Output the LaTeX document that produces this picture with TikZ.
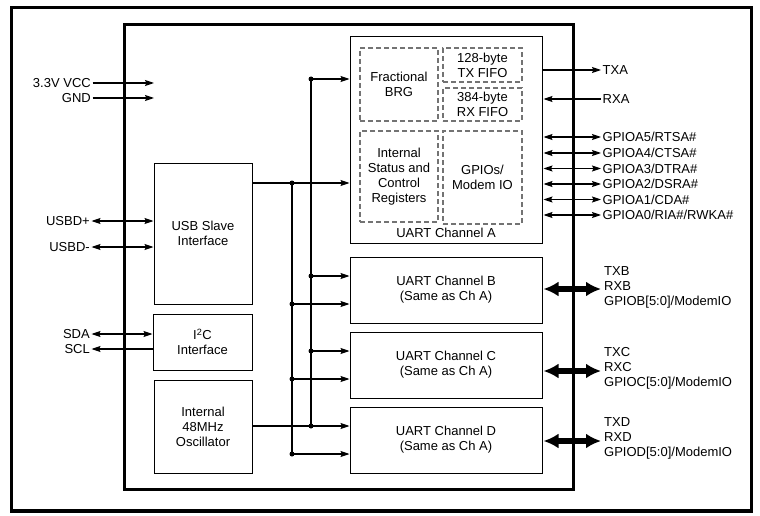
\documentclass[tikz,border=0pt]{standalone}
\usepackage{fontspec}
\setmainfont{Liberation Sans}
\usetikzlibrary{arrows.meta}
\begin{document}
\begin{tikzpicture}[x=1pt,y=-1pt,
  txt/.style={font=\fontsize{13}{15}\selectfont},
  lbl/.style={txt, inner sep=1.5pt},
  blk/.style={draw, line width=1pt, align=center, txt, inner sep=0pt},
  dbox/.style={draw=black!55, dashed, dash pattern=on 5pt off 3pt, line width=1.1pt, align=center, txt, inner sep=0pt},
  sig/.style={line width=1.1pt, -{Stealth[length=9pt,width=6pt,inset=1.5pt]}},
  sigb/.style={line width=1.1pt, {Stealth[length=9pt,width=6pt,inset=1.5pt]}-{Stealth[length=9pt,width=6pt,inset=1.5pt]}},
  fat/.style={line width=5.5pt, {Latex[length=15pt,width=15pt]}-{Latex[length=15pt,width=15pt]}},
  jdot/.style={circle, fill, inner sep=0pt, minimum size=5pt},
  wire/.style={line width=1.1pt}
]
\useasboundingbox (0,0) rectangle (760,516);
\fill[white] (0,0) rectangle (760,516);
% frames
\draw[line width=3.5pt] (11.5,7.7) rectangle (751.6,510.8);
\draw[line width=2.8pt] (124.7,24.7) rectangle (573.3,489.7);

% left blocks
\node[blk, minimum width=98pt, minimum height=141pt] (usb) at (203,233.5) {USB Slave\\Interface};
\node[blk, minimum width=99pt, minimum height=56pt] (i2c) at (202.5,342) {I\textsuperscript{2}C\\Interface};
\node[blk, minimum width=98pt, minimum height=93pt] (osc) at (203,426.5) {Internal\\48MHz\\Oscillator};

% UART A
\node[draw, line width=1pt, minimum width=192pt, minimum height=206pt, inner sep=0pt] (uartA) at (446,140) {};
\node[txt, inner sep=0pt] (uartAlbl) at (446,232.5) {UART Channel A};
\node[dbox, minimum width=78pt, minimum height=73pt] (brg) at (399,84.5) {Fractional\\BRG};
\node[dbox, minimum width=79pt, minimum height=34pt] (txf) at (482.5,65) {128-byte\\TX FIFO};
\node[dbox, minimum width=79pt, minimum height=33pt] (rxf) at (482.5,104.5) {384-byte\\RX FIFO};
\node[dbox, minimum width=78pt, minimum height=91pt] (stat) at (399,176.5) {Internal\\Status and\\Control\\Registers};
\node[dbox, minimum width=79pt, minimum height=93pt] (gpio) at (482.5,177.5) {GPIOs/\\Modem IO};

% UART B, C, D
\node[blk, minimum width=192pt, minimum height=66pt] (uartB) at (446,290) {UART Channel B\\(Same as Ch A)};
\node[blk, minimum width=192pt, minimum height=66pt] (uartC) at (446,365) {UART Channel C\\(Same as Ch A)};
\node[blk, minimum width=192pt, minimum height=66pt] (uartD) at (446,440) {UART Channel D\\(Same as Ch A)};

% bus junctions
\node[jdot] (j1) at (311,79) {};
\node[jdot] (j2) at (292,183) {};
\node[jdot] (j3) at (311,276) {};
\node[jdot] (j4) at (292,304) {};
\node[jdot] (j5) at (311,351) {};
\node[jdot] (j6) at (292,379) {};
\node[jdot] (j7) at (311,426) {};
\node[jdot] (j8) at (292,454) {};

\draw[wire] (j1.center) -- (j7.center);
\draw[wire] (j2.center) -- (j8.center);
\draw[sig] (j1.center) -- (uartA.west |- j1);
\draw[sig] (usb.east |- j2) -- (uartA.west |- j2);
\draw[sig] (j3.center) -- (uartB.west |- j3);
\draw[sig] (j4.center) -- (uartB.west |- j4);
\draw[sig] (j5.center) -- (uartC.west |- j5);
\draw[sig] (j6.center) -- (uartC.west |- j6);
\draw[sig] (osc.east |- j7) -- (uartD.west |- j7);
\draw[sig] (j8.center) -- (uartD.west |- j8);

% left signals
\node[lbl, anchor=east] (vcc) at (92.5,83) {3.3V VCC};
\node[lbl, anchor=east] (gnd) at (92.5,98) {GND};
\coordinate (vccend) at (154,83);
\coordinate (gndend) at (154,98);
\draw[sig] (vcc) -- (vccend);
\draw[sig] (gnd) -- (gndend);
\node[lbl, anchor=east] (usbdp) at (91.5,221) {USBD+};
\node[lbl, anchor=east] (usbdm) at (91.5,247) {USBD-};
\draw[sigb] (usbdp) -- (usb.west |- usbdp);
\draw[sigb] (usbdm) -- (usb.west |- usbdm);
\node[lbl, anchor=east] (sda) at (91.5,334) {SDA};
\node[lbl, anchor=east] (scl) at (91.5,349) {SCL};
\draw[sigb] (sda) -- (i2c.west |- sda);
\draw[sig] (i2c.west |- scl) -- (scl);

% right signals of channel A
\node[lbl, anchor=west] (txa) at (601,70) {TXA};
\node[lbl, anchor=west] (rxa) at (601,99) {RXA};
\draw[sig] (uartA.east |- txa) -- (txa);
\draw[sig] (rxa) -- ([xshift=1pt]uartA.east |- rxa);
\foreach \n/\y/\t in {g5/137/GPIOA5\slash RTSA\#, g4/153/GPIOA4\slash CTSA\#, g3/168.5/GPIOA3\slash DTRA\#, g2/184/GPIOA2\slash DSRA\#, g1/199.5/GPIOA1\slash CDA\#, g0/215/GPIOA0\slash RIA\#\slash RWKA\#}{
  \node[lbl, anchor=west] (\n) at (601,\y) {\t};
  \draw[sigb] ([xshift=1pt]uartA.east |- \n) -- (\n);
}

% right signals of channels B, C, D
\node[txt, inner sep=0pt, anchor=west, align=left] (lblB) at (604,287) {TXB\\RXB\\GPIOB[5:0]/ModemIO};
\node[txt, inner sep=0pt, anchor=west, align=left] (lblC) at (604,368) {TXC\\RXC\\GPIOC[5:0]/ModemIO};
\node[txt, inner sep=0pt, anchor=west, align=left] (lblD) at (604,438) {TXD\\RXD\\GPIOD[5:0]/ModemIO};
\coordinate (bB) at (601,289);
\coordinate (bC) at (601,371);
\coordinate (bD) at (601,441);
\draw[fat] ([xshift=1pt]uartB.east |- bB) -- (bB);
\draw[fat] ([xshift=1pt]uartC.east |- bC) -- (bC);
\draw[fat] ([xshift=1pt]uartD.east |- bD) -- (bD);
\end{tikzpicture}
\end{document}
